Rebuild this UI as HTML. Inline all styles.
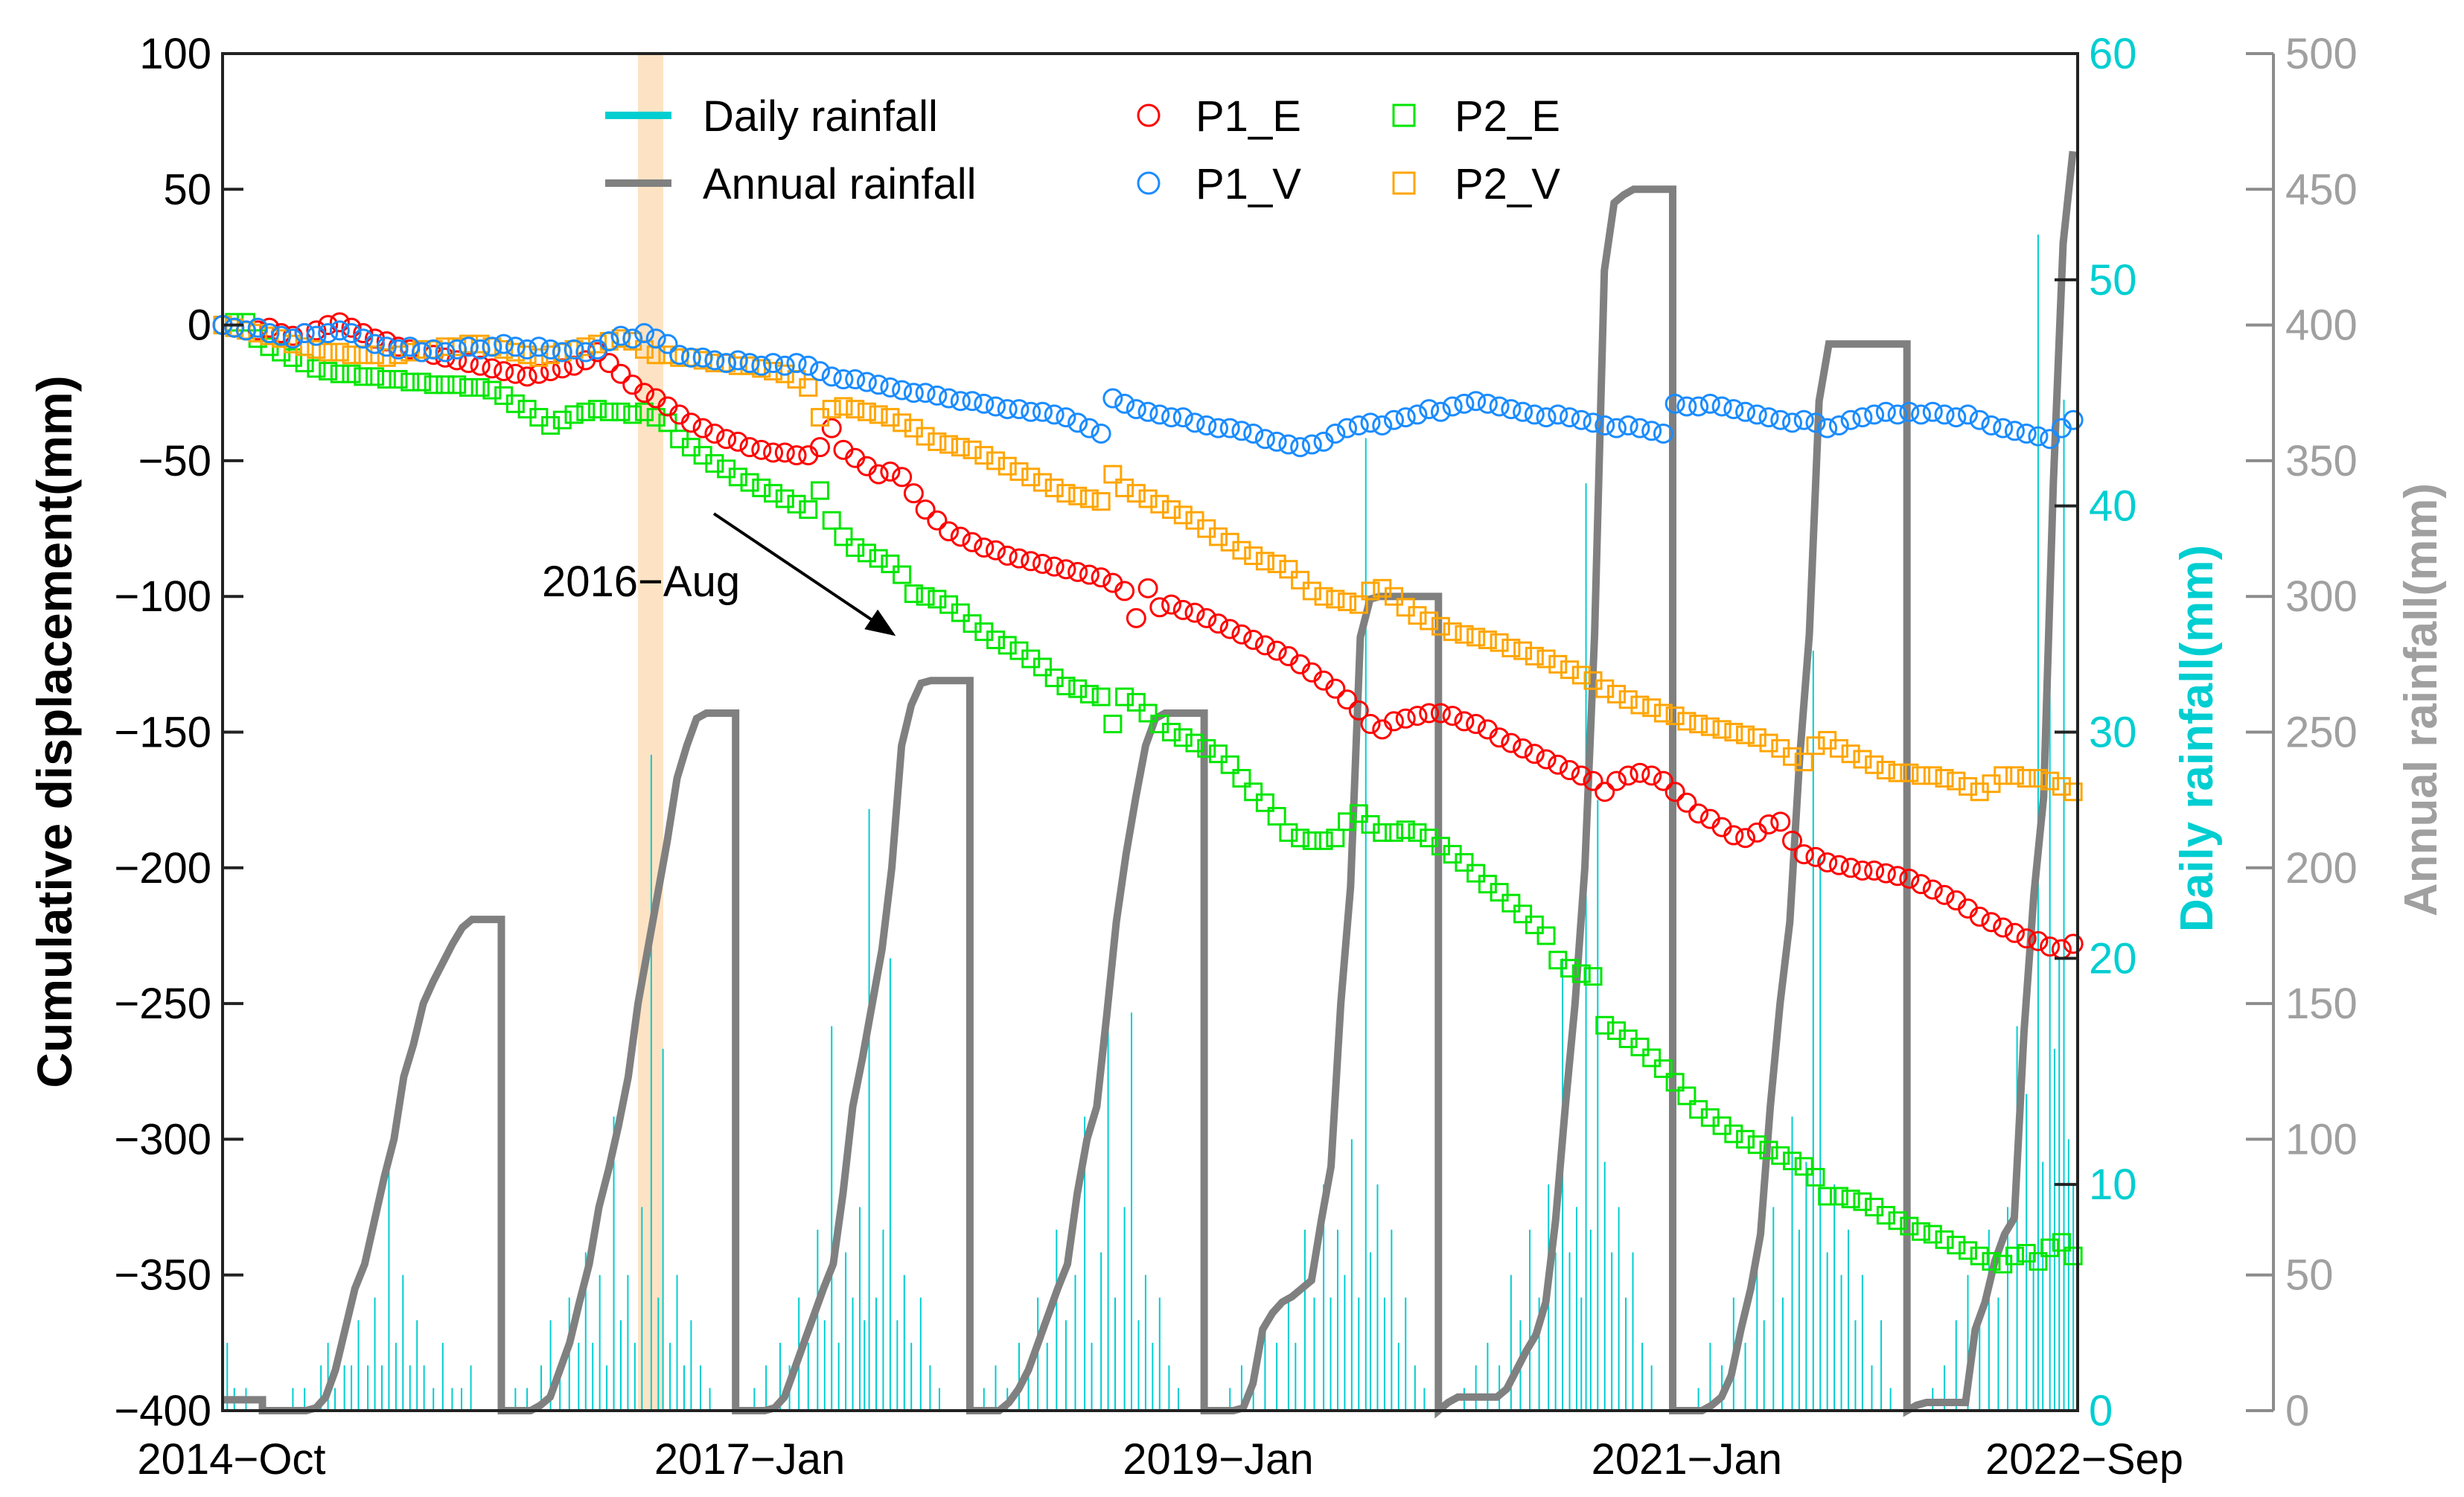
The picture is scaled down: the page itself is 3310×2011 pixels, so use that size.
<!DOCTYPE html>
<html><head><meta charset="utf-8"><style>
html,body{margin:0;padding:0;background:#fff;}
svg{display:block;font-family:"Liberation Sans",sans-serif;}
</style></head><body>
<svg id="chart" width="3310" height="2011" viewBox="0 0 3310 2011" xmlns="http://www.w3.org/2000/svg">
<rect x="857" y="72" width="34" height="1823" fill="#fde3c4"/>
<g id="rain"></g>
<g id="annual"></g>
<g id="marks"></g>
<g id="axes"></g>
<g font-size="58">
<line x1="813" y1="155" x2="902" y2="155" stroke="#00ced1" stroke-width="10"/>
<text x="944" y="176">Daily rainfall</text>
<line x1="813" y1="246" x2="902" y2="246" stroke="#808080" stroke-width="10"/>
<text x="944" y="267">Annual rainfall</text>
<circle cx="1543" cy="155" r="14" fill="none" stroke="#ff0000" stroke-width="3"/>
<text x="1606" y="176">P1_E</text>
<circle cx="1543" cy="246" r="14" fill="none" stroke="#1a8cff" stroke-width="3"/>
<text x="1606" y="267">P1_V</text>
<rect x="1872" y="141" width="28" height="28" fill="none" stroke="#00e600" stroke-width="3"/>
<text x="1954" y="176">P2_E</text>
<rect x="1872" y="232" width="28" height="28" fill="none" stroke="#ffa500" stroke-width="3"/>
<text x="1954" y="267">P2_V</text>
</g>
<text x="728" y="801" font-size="58">2016−Aug</text>
<defs><marker id="ah" markerWidth="10" markerHeight="8" refX="9" refY="4" orient="auto" markerUnits="strokeWidth"><path d="M0,0 L10,4 L0,8 z" fill="#000"/></marker></defs>
<line x1="959" y1="690" x2="1200" y2="852" stroke="#000" stroke-width="4" marker-end="url(#ah)"/>
<text transform="translate(96,983) rotate(-90)" text-anchor="middle" font-size="66" font-weight="bold">Cumulative displacement(mm)</text>
<text transform="translate(2972,992) rotate(-90)" text-anchor="middle" font-size="62" font-weight="bold" fill="#00ced1">Daily rainfall(mm)</text>
<text transform="translate(3273,940) rotate(-90)" text-anchor="middle" font-size="62" font-weight="bold" fill="#a0a0a0">Annual rainfall(mm)</text>
</svg>
<script>
const tStep = 0.05;
const p1v = [0,-1,-2,-1,-3,-4,-5,-3,-4,-3,-2,
-3,-5,-7,-8,-9,-8,-10,-9,-10,-9,
-8,-9,-8,-7,-8,-9,-8,-9,-10,-9,
-10,-9,-6,-4,-5,-3,-5,-7,-11,-12,
-12,-13,-14,-13,-14,-15,-14,-15,-14,-15,
-17,-19,-20,-20,-21,-22,-23,-24,-25,-25,
-26,-27,-28,-28,-29,-30,-31,-31,-32,-32,
-33,-34,-36,-38,-40,-27,-29,-31,-32,-33,
-34,-34,-36,-37,-38,-38,-39,-40,-42,-43,
-44,-45,-44,-43,-40,-38,-37,-36,-37,-35,
-34,-33,-31,-32,-30,-29,-28,-29,-30,-31,
-32,-33,-34,-33,-34,-35,-36,-37,-38,-37,
-38,-39,-40,-29,-30,-30,-29,-30,-31,-32,
-33,-34,-35,-36,-35,-36,-38,-37,-35,-34,
-33,-32,-33,-32,-33,-32,-33,-34,-33,-35,
-37,-38,-39,-40,-41,-42,-38,-35];
const p1e = [0,-1,-2,-2,-1,-3,-4,-3,-2,0,1,
-1,-3,-5,-6,-8,-9,-10,-11,-12,-13,
-14,-15,-16,-17,-18,-19,-18,-17,-16,-15,
-13,-10,-14,-18,-22,-25,-27,-30,-33,-36,
-38,-40,-42,-43,-45,-46,-47,-47,-48,-48,
-45,-38,-46,-49,-52,-55,-54,-56,-62,-68,
-72,-76,-78,-80,-82,-83,-85,-86,-87,-88,
-89,-90,-91,-92,-93,-95,-98,-108,-97,-104,
-103,-105,-106,-108,-110,-112,-114,-116,-118,-120,
-122,-125,-128,-131,-134,-138,-142,-147,-149,-146,
-145,-144,-143,-143,-144,-146,-147,-149,-152,-154,
-156,-158,-160,-162,-164,-166,-168,-172,-168,-166,
-165,-166,-168,-172,-176,-180,-182,-185,-188,-189,
-187,-184,-183,-190,-195,-196,-198,-199,-200,-201,
-201,-202,-203,-204,-206,-208,-210,-212,-215,-218,
-220,-222,-224,-226,-227,-229,-230,-228];
const p2e = [0,1,1,-5,-8,-10,-12,-14,-16,-17,-18,
-18,-19,-19,-20,-20,-21,-21,-22,-22,-22,
-23,-23,-24,-26,-29,-31,-34,-37,-35,-33,
-32,-31,-32,-32,-33,-32,-34,-36,-42,-45,
-48,-51,-53,-56,-58,-60,-62,-64,-66,-68,
-61,-72,-78,-82,-84,-86,-88,-92,-99,-100,
-101,-103,-106,-110,-113,-116,-118,-120,-123,-126,
-130,-133,-134,-136,-137,-147,-137,-139,-143,-147,
-150,-152,-154,-156,-158,-162,-167,-172,-176,-181,
-187,-189,-190,-190,-189,-183,-180,-184,-187,-187,
-186,-187,-189,-192,-195,-198,-202,-206,-209,-213,
-217,-221,-225,-234,-237,-239,-240,-258,-260,-263,
-266,-270,-274,-279,-284,-289,-292,-295,-298,-300,
-302,-304,-306,-308,-310,-314,-321,-321,-322,-323,
-325,-328,-330,-332,-334,-335,-337,-339,-341,-343,
-345,-346,-343,-342,-345,-340,-338,-343];
const p2v = [0,-1,-2,-3,-4,-5,-7,-8,-9,-10,-10,
-11,-11,-11,-12,-11,-10,-9,-9,-8,-8,
-7,-7,-8,-9,-10,-11,-12,-11,-10,-9,
-8,-7,-6,-5,-6,-9,-11,-11,-12,-12,
-13,-14,-14,-15,-15,-16,-17,-18,-20,-23,
-34,-31,-30,-31,-32,-33,-34,-36,-38,-41,
-43,-44,-45,-46,-48,-50,-52,-54,-56,-58,
-60,-62,-63,-64,-65,-55,-60,-62,-64,-66,
-68,-70,-72,-75,-78,-80,-83,-85,-87,-88,
-90,-94,-98,-100,-101,-102,-103,-98,-97,-100,
-104,-107,-109,-111,-113,-114,-115,-116,-117,-119,
-120,-122,-123,-125,-127,-129,-131,-134,-136,-138,
-140,-141,-143,-144,-146,-147,-148,-149,-150,-151,
-152,-154,-156,-159,-161,-155,-153,-156,-158,-160,
-162,-164,-165,-165,-166,-166,-167,-168,-170,-172,
-169,-166,-166,-167,-167,-168,-170,-172];
const rainT = [0.02,0.05,0.10,0.30,0.35,0.42,0.45,0.48,0.52,0.55,0.58,0.62,0.65,0.68,0.71,0.74,0.77,0.80,0.83,0.86,0.90,0.94,0.98,1.02,1.06,
1.25,1.30,1.36,1.40,1.44,1.48,1.52,1.55,1.58,1.61,1.64,1.67,1.70,1.73,1.76,1.79,1.83,1.86,1.88,1.91,1.94,1.97,2.00,2.04,2.08,
2.27,2.32,2.38,2.42,2.46,2.50,2.54,2.57,2.60,2.63,2.66,2.69,2.72,2.74,2.76,2.79,2.82,2.85,2.88,2.91,2.94,2.98,3.02,3.06,
3.25,3.30,3.35,3.40,3.44,3.48,3.52,3.56,3.60,3.64,3.68,3.71,3.75,3.78,3.81,3.85,3.88,3.91,3.94,3.97,4.00,4.04,4.08,
4.30,4.35,4.40,4.45,4.50,4.55,4.58,4.62,4.66,4.70,4.73,4.76,4.79,4.82,4.85,4.88,4.90,4.93,4.96,4.99,5.02,5.05,5.09,5.13,
5.30,5.35,5.40,5.45,5.50,5.54,5.58,5.62,5.66,5.69,5.72,5.75,5.78,5.80,5.82,5.84,5.87,5.90,5.93,5.96,5.99,6.02,6.06,6.10,
6.30,6.35,6.40,6.45,6.50,6.55,6.58,6.62,6.66,6.70,6.73,6.76,6.79,6.82,6.85,6.88,6.91,6.94,6.97,7.00,7.04,7.08,7.12,
7.30,7.35,7.40,7.45,7.50,7.54,7.58,7.62,7.66,7.70,7.73,7.75,7.77,7.80,7.82,7.84,7.86,7.88,7.90];
const rainV = [3,1,1,1,1,2,3,1,2,2,4,2,5,2,10.6,3,6,2,4,2,1,3,1,1,2,
1,1,2,4,2,5,3,7,3,6,2,13,4,6,3,9,29,5,16,3,6,2,4,2,1,
1,2,3,2,5,3,8,4,17,3,7,5,9,4,26.6,5,8,20,4,6,3,5,2,1,
1,2,1,3,2,5,3,8,4,6,13,3,7,17,5,9,17.6,4,6,3,5,2,1,
1,2,2,4,3,5,3,8,5,10,5,8,6,12,5,43,7,10,5,8,3,5,2,1,
1,2,3,2,6,4,8,5,10,7,20,7,9,5,41,8,27,11,7,9,5,7,3,2,
1,3,2,5,3,7,4,9,5,13,8,11,33.6,24.5,7,10,6,8,4,6,2,4,1,
1,2,4,6,4,8,5,9,17,14,7,52,11,39,16,20,44.7,12,10];
const annualPre = 4;
const annualYears = [
[0,0,0,0,0,1,5,15,30,45,54,70,86,100,123,135,150,158,165,172,178,181,181,181],
[0,0,0,0,2,5,15,25,40,54,75,89,105,123,150,170,190,210,233,245,255,257,257,257],
[0,0,0,0,1,5,15,25,35,45,54,80,112,130,150,170,200,245,260,268,269,269,269,269],
[0,0,0,0,3,8,15,25,35,45,54,80,100,112,145,180,205,226,245,255,257,257,257,257],
[0,0,0,0,1,10,30,36,40,42,45,48,70,90,150,193,285,299,300,300,300,300,300,300],
[0,3,5,5,5,5,5,8,15,22,28,40,70,112,150,200,286,420,445,448,450,450,450,450],
[0,0,0,0,2,5,13,30,45,65,112,150,180,240,286,372,393,393,393,393,393,393,393,393],
[0,2,3,3,3,3,3,30,40,55,65,71,140,190,226,342,430,464]];
const leftTicks = [100,50,0,-50,-100,-150,-200,-250,-300,-350,-400];
const dailyTicks = [0,10,20,30,40,50,60];
const annualTicks = [0,50,100,150,200,250,300,350,400,450,500];
const xLabels = ["2014−Oct","2017−Jan","2019−Jan","2021−Jan","2022−Sep"];
const xLabelT = [0,2.25,4.25,6.25,7.92];

const L=299,R=2791,T=72,B=1895;
const xT = t => L + t*314.7;
const yD = v => T + (100-v)*(B-T)/500;
const yR = v => B - v*(B-T)/60;
const yA = v => B - v*(B-T)/500;
const NS="http://www.w3.org/2000/svg";
function mk(tag, parent, attrs){const e=document.createElementNS(NS,tag);for(const k in attrs)e.setAttribute(k,attrs[k]);parent.appendChild(e);return e;}

const rain=document.getElementById('rain');
rainT.forEach((t,i)=>{
  const l=mk('line',rain,{x1:xT(t),x2:xT(t),y1:B,y2:yR(rainV[i]),stroke:'#00ced1','stroke-width':2});
  
  
});

const ann=document.getElementById('annual');
let pts=[[0,annualPre],[0.17,annualPre],[0.17,0]];
annualYears.forEach((vals,k)=>{
  const t0=0.19+k;
  vals.forEach((v,i)=>pts.push([t0+i/24,v]));
  if(k<annualYears.length-1){pts.push([t0+1,vals[vals.length-1]]);pts.push([t0+1,0]);}
});
const pl=mk('polyline',ann,{points:pts.map(p=>Math.min(xT(p[0]),R-4)+','+yA(p[1])).join(' '),fill:'none',stroke:'#808080','stroke-width':10,'stroke-linejoin':'miter'});



const marks=document.getElementById('marks');
function circles(arr,color,name){
  const g=mk('g',marks,{});
  
  
  arr.forEach((v,i)=>{
    const c=mk('circle',g,{cx:xT(i*tStep),cy:yD(v),r:12,fill:'none',stroke:color,'stroke-width':3});
    
    
  });
}
function squares(arr,color,name){
  const g=mk('g',marks,{});
  
  
  arr.forEach((v,i)=>{
    const s=mk('rect',g,{x:xT(i*tStep)-11,y:yD(v)-11,width:22,height:22,fill:'none',stroke:color,'stroke-width':3});
    
    
  });
}
squares(p2e,'#00e600','p2-e-series');
circles(p1e,'#ff0000','p1-e-series');
squares(p2v,'#ffa500','p2-v-series');
circles(p1v,'#1a8cff','p1-v-series');

const ax=document.getElementById('axes');
const box=mk('path',ax,{d:`M${L},${T} L${R},${T} L${R},${B} L${L},${B} Z`,fill:'none',stroke:'#222','stroke-width':4});


leftTicks.forEach(v=>{
  const y=yD(v);
  const tk=mk('line',ax,{x1:L,x2:L+28,y1:y,y2:y,stroke:'#222','stroke-width':4});
  
  
  const tx=mk('text',ax,{x:284,y:y+20,'text-anchor':'end','font-size':58});
  tx.textContent=String(v).replace('-','−');
  
  
});
dailyTicks.forEach(v=>{
  const y=yR(v);
  const tk=mk('line',ax,{x1:R-31,x2:R,y1:y,y2:y,stroke:'#222','stroke-width':4});
  
  
  const tx=mk('text',ax,{x:2806,y:y+20,'font-size':58,fill:'#00ced1'});
  tx.textContent=String(v);
  
  
});
const ga=mk('line',ax,{x1:3054,x2:3054,y1:T,y2:B,stroke:'#8c8c8c','stroke-width':4});


annualTicks.forEach(v=>{
  const y=yA(v);
  const tk=mk('line',ax,{x1:3017,x2:3054,y1:y,y2:y,stroke:'#8c8c8c','stroke-width':4});
  
  
  const tx=mk('text',ax,{x:3070,y:y+20,'font-size':58,fill:'#a0a0a0'});
  tx.textContent=String(v);
  
  
});
xLabels.forEach((s,i)=>{
  const tx=mk('text',ax,{x:i==0?311:(i==4?2800:xT(xLabelT[i])),y:1980,'text-anchor':'middle','font-size':58});
  tx.textContent=s;
  
  
});
</script>
</body></html>
